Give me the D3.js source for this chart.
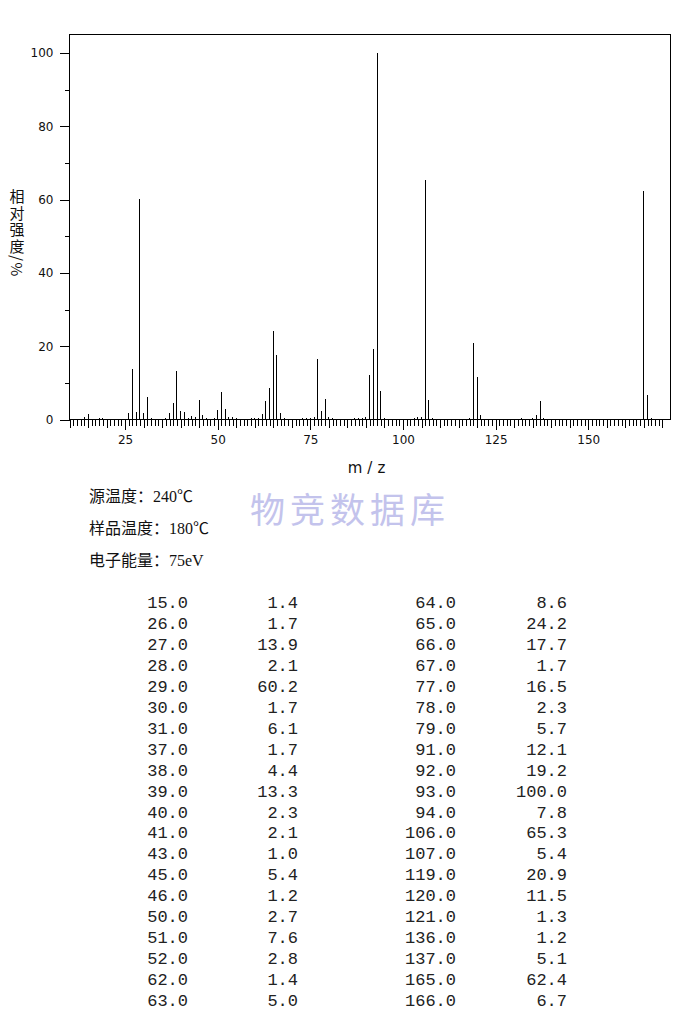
<!DOCTYPE html>
<html>
<head>
<meta charset="utf-8">
<script src="https://cdn.jsdelivr.net/npm/d3@7"></script>
<style>
  html, body { margin: 0; padding: 0; background: #fff; }
  svg { display: block; }
</style>
</head>
<body>
<svg id="chart" width="696" height="1020"></svg>
<script>
// ---- data ----
const peakMz = [15,26,27,28,29,30,31,37,38,39,40,41,43,45,46,50,51,52,62,63,
                64,65,66,67,77,78,79,91,92,93,94,106,107,119,120,121,136,137,165,166];
const peakIntensity = [1.4,1.7,13.9,2.1,60.2,1.7,6.1,1.7,4.4,13.3,2.3,2.1,1.0,5.4,1.2,2.7,7.6,2.8,1.4,5.0,
                8.6,24.2,17.7,1.7,16.5,2.3,5.7,12.1,19.2,100.0,7.8,65.3,5.4,20.9,11.5,1.3,1.2,5.1,62.4,6.7];
// small peaks drawn in the spectrum but below the table cut-off
const minorMz = [14,18,19,32,36,42,44,47,49,53,54,55,59,60,61,68,70,73,74,75,76,80,81,87,88,89,90,95,103,104,105,108,118,132,135,138,167];
const minorIntensity = [0.6,0.3,0.3,0.3,0.4,0.5,0.6,0.3,0.3,0.8,0.8,0.3,0.3,0.5,0.5,0.3,0.2,0.4,0.5,0.5,0.8,0.8,0.3,0.3,0.3,0.3,0.8,0.3,0.3,0.7,0.6,0.3,0.3,0.3,0.3,0.5,0.5];
const yMajorTicks = [0,20,40,60,80,100];
const yMinorTicks = [10,30,50,70,90];
const xLabelTicks = [25,50,75,100,125,150];
const infoLabels = ["源温度：", "样品温度：", "电子能量："];
const infoValues = ["240", "180", "75eV"];
const infoUnits = ["℃", "℃", ""];
const yLabel = "相对强度/%";
const xLabel = "m/z";
const watermark = "物竞数据库";

// ---- chart ----
const svg = d3.select("#chart");
const x = d3.scaleLinear().domain([10, 172.2]).range([69.5, 670.5]);
const y = d3.scaleLinear().domain([0, 100]).range([419.5, 53]);
const yTop = y(105);

const g = svg.append("g");

// peaks
const allPeaks = peakMz.map((m,i)=>({m, v: peakIntensity[i]}))
  .concat(minorMz.map((m,i)=>({m, v: minorIntensity[i]})));
g.selectAll("line.peak").data(allPeaks).enter().append("line")
  .attr("class","peak")
  .attr("x1", d => Math.round(x(d.m) - 0.5) + 0.5)
  .attr("x2", d => Math.round(x(d.m) - 0.5) + 0.5)
  .attr("y1", y(0))
  .attr("y2", d => y(d.v))
  .attr("stroke", "#000").attr("stroke-width", 1)
  .attr("shape-rendering", "crispEdges");

// frame
g.append("rect")
  .attr("x", x(10)).attr("y", yTop)
  .attr("width", x(172.2) - x(10)).attr("height", y(0) - yTop)
  .attr("fill", "none").attr("stroke", "#000").attr("stroke-width", 1)
  .attr("shape-rendering", "crispEdges");

function styleAxis(sel) {
  sel.select(".domain").remove();
  sel.selectAll("line").attr("stroke", "#000").attr("shape-rendering", "crispEdges");
  sel.selectAll("text").attr("font-family", "DejaVu Sans, Verdana, sans-serif")
     .attr("font-size", 12).attr("fill", "#111");
}

// y axis
g.append("g").attr("transform", `translate(${x(10)},0)`)
  .call(d3.axisLeft(y).tickValues(yMinorTicks).tickSize(5).tickFormat(""))
  .call(styleAxis);
g.append("g").attr("transform", `translate(${x(10)},0)`)
  .call(d3.axisLeft(y).tickValues(yMajorTicks).tickSize(10).tickPadding(6).tickFormat(d3.format("d")))
  .call(styleAxis);

// x axis
g.append("g").attr("transform", `translate(0,${y(0)})`)
  .call(d3.axisBottom(x).tickValues(d3.range(10, 171)).tickSize(6).tickFormat(""))
  .call(styleAxis);
g.append("g").attr("transform", `translate(0,${y(0)})`)
  .call(d3.axisBottom(x).tickValues(d3.range(10, 171, 5)).tickSize(8).tickFormat(""))
  .call(styleAxis);
g.append("g").attr("transform", `translate(0,${y(0)})`)
  .call(d3.axisBottom(x).tickValues(xLabelTicks).tickSize(10).tickPadding(6).tickFormat(d3.format("d")))
  .call(styleAxis);

// x label
svg.append("text").attr("x", 369).attr("y", 473)
  .attr("text-anchor", "middle")
  .attr("font-family", "DejaVu Sans, sans-serif").attr("font-size", 15)
  .attr("letter-spacing", 5).attr("fill", "#111")
  .text(xLabel);

// y label (vertical)
svg.append("text").attr("x", 17).attr("y", 189)
  .attr("font-family", "Noto Sans CJK SC, sans-serif").attr("font-size", 15)
  .attr("letter-spacing", 1.5)
  .style("writing-mode", "vertical-rl")
  .attr("fill", "#111").text(yLabel);

// info lines
infoLabels.forEach((t, i) => {
  const tx = svg.append("text").attr("x", 89).attr("y", 502 + i * 32.2)
    .attr("font-size", 16).attr("fill", "#111");
  tx.append("tspan").attr("font-family", "Noto Sans CJK SC, sans-serif").text(t);
  tx.append("tspan").attr("font-family", "Liberation Serif, serif").text(infoValues[i]);
  if (infoUnits[i]) tx.append("tspan").attr("font-family", "Noto Sans CJK SC, sans-serif").text(infoUnits[i]);
});

// watermark
svg.append("text").attr("x", 250).attr("y", 523)
  .attr("font-family", "Noto Sans CJK SC, sans-serif")
  .attr("font-size", 35).attr("letter-spacing", 5)
  .attr("fill", "#c3c3ec").text(watermark);

// table
const half = Math.ceil(peakMz.length / 2);
const colX = [188, 298, 456, 567];
peakMz.forEach((m, i) => {
  const col = i < half ? 0 : 1;
  const row = i < half ? i : i - half;
  const yy = 608 + row * 20.95;
  svg.append("text").attr("x", colX[col*2]).attr("y", yy)
    .attr("text-anchor", "end").attr("font-family", "Liberation Mono, Courier New, monospace")
    .attr("font-size", 17).attr("fill", "#222").text(m.toFixed(1));
  svg.append("text").attr("x", colX[col*2+1]).attr("y", yy)
    .attr("text-anchor", "end").attr("font-family", "Liberation Mono, Courier New, monospace")
    .attr("font-size", 17).attr("fill", "#222").text(peakIntensity[i].toFixed(1));
});
</script>
</body>
</html>
